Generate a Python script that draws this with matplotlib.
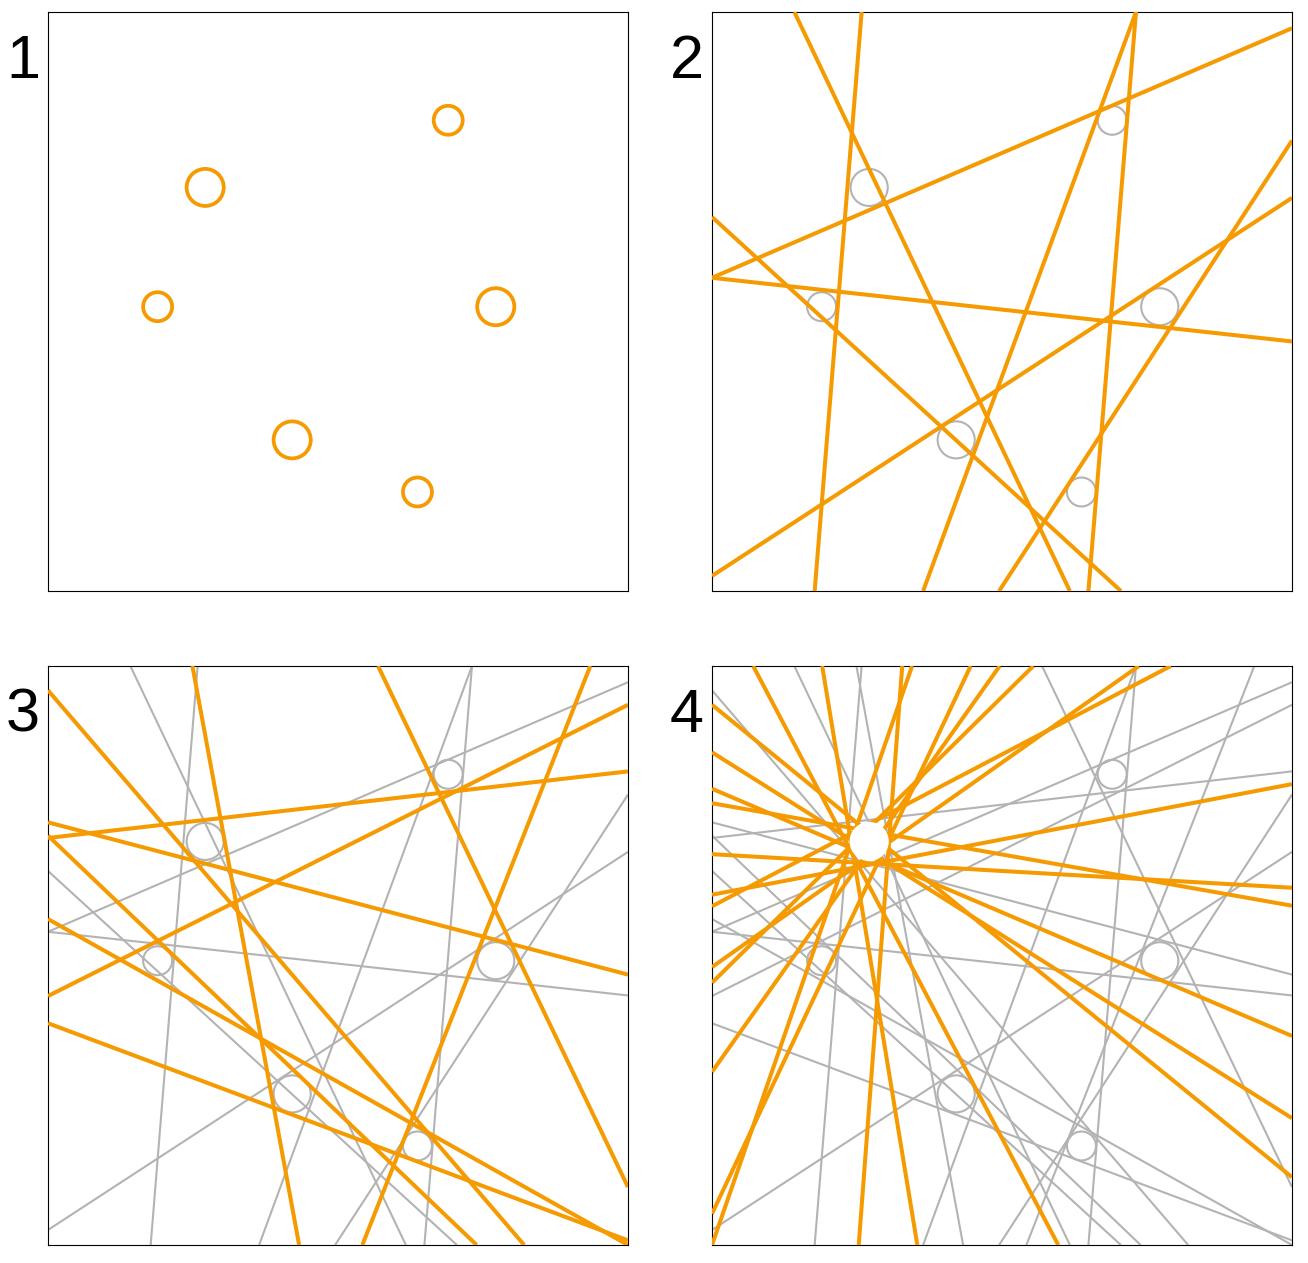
import matplotlib.pyplot as plt
from matplotlib.patches import Circle

ORANGE = '#f59a00'
GRAY = '#b3b3b3'

# circles: x, y, radius (panel units 0..1)
circle_x = [0.271, 0.690, 0.189, 0.772, 0.421, 0.637]
circle_y = [0.697, 0.813, 0.491, 0.491, 0.261, 0.171]
circle_r = [0.032, 0.025, 0.025, 0.032, 0.032, 0.025]

# panel 2 lines: (x0, y0, x1, y1)
lines2 = [
    (0.142, 1, 0.617, 0), (0.258, 1, 0.177, 0), (0.731, 1, 0.649, 0),
    (0.731, 1, 0.364, 0), (0, 0.541, 1, 0.972), (0, 0.026, 1, 0.679),
    (0, 0.541, 1, 0.431), (0, 0.646, 0.705, 0), (0.495, 0, 1, 0.778),
]
# panel 3 new lines
lines3 = [
    (0.249, 1, 0.433, 0), (0.569, 1, 1, 0.100), (0.935, 1, 0.542, 0),
    (1, 0.933, 0, 0.430), (1, 0.818, 0, 0.703), (0, 0.958, 0.821, 0),
    (0, 0.730, 1, 0.467), (0, 0.707, 0.739, 0), (0, 0.563, 1, 0),
    (0, 0.383, 1, 0.008),
]
# panel 4 new lines (star around the first circle)
lines4 = [
    (1, 0.796, 0, 0.605), (0.791, 1, 0, 0.585), (0.736, 1, 0, 0.480),
    (0.554, 1, 0, 0.453), (0.496, 1, 0, 0.299), (0.446, 1, 0, 0.054),
    (0.345, 1, 0, 0), (0.328, 1, 0.253, 0), (0.190, 1, 0.354, 0),
    (0.071, 1, 0.597, 0), (0, 0.933, 1, 0.117), (0, 0.851, 1, 0.219),
    (0, 0.788, 1, 0.361), (0, 0.763, 1, 0.586), (0, 0.675, 1, 0.617),
]

W, H = 1308, 1263
fig = plt.figure(figsize=(W / 100, H / 100), dpi=100)
plt.rcParams['font.family'] = ['Liberation Sans', 'DejaVu Sans']

boxes = [(48, 12), (712, 12), (48, 666), (712, 666)]
axes = []
for i, (px, py) in enumerate(boxes):
    ax = fig.add_axes([px / W, (H - py - 579) / H, 580 / W, 579 / H])
    ax.set_xlim(0, 1)
    ax.set_ylim(0, 1)
    ax.set_xticks([])
    ax.set_yticks([])
    for s in ax.spines.values():
        s.set_linewidth(0.8)
    fig.text((px - 25) / W, 1 - (py + 50) / H, str(i + 1), fontsize=44,
             ha='center', va='center')
    axes.append(ax)


def draw_lines(ax, lines, color, lw, z):
    for x0, y0, x1, y1 in lines:
        ax.plot([x0, x1], [y0, y1], color=color, lw=lw, zorder=z,
                solid_capstyle='butt')


def draw_circles(ax, color, lw, fill_first=False):
    for k, (x, y, r) in enumerate(zip(circle_x, circle_y, circle_r)):
        if fill_first and k == 0:
            ax.add_patch(Circle((x, y), r, facecolor='white', edgecolor='white',
                                lw=lw, zorder=10))
        else:
            ax.add_patch(Circle((x, y), r, facecolor='none', edgecolor=color,
                                lw=lw, zorder=1))


draw_circles(axes[0], ORANGE, 2.7)

draw_circles(axes[1], GRAY, 1.5)
draw_lines(axes[1], lines2, ORANGE, 2.9, 3)

draw_circles(axes[2], GRAY, 1.5)
draw_lines(axes[2], lines2, GRAY, 1.5, 2)
draw_lines(axes[2], lines3, ORANGE, 2.9, 3)

draw_circles(axes[3], GRAY, 1.5, fill_first=True)
draw_lines(axes[3], lines2 + lines3, GRAY, 1.5, 2)
draw_lines(axes[3], lines4, ORANGE, 2.9, 3)

fig.savefig('out.png', dpi=100)
